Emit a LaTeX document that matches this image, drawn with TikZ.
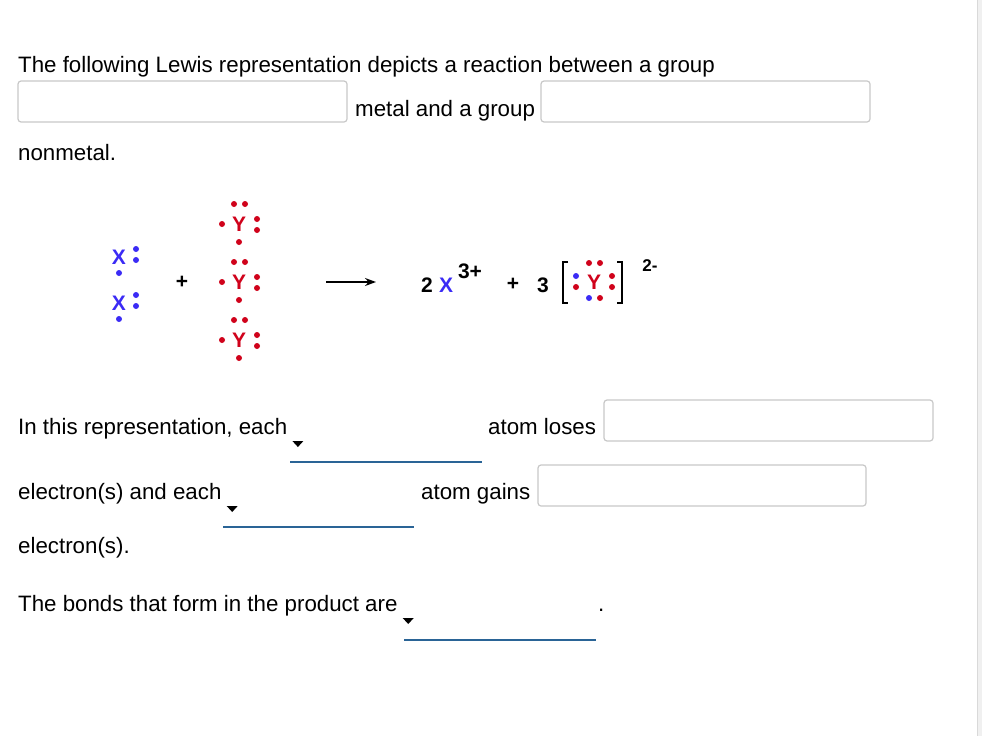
\documentclass[tikz,border=0pt]{standalone}
\usepackage{fontspec}
\setmainfont{Liberation Sans}
\usetikzlibrary{arrows.meta}
\definecolor{xblue}{HTML}{3B2BF5}
\definecolor{yred}{HTML}{D0021B}
\definecolor{boxgray}{HTML}{C8C8C8}
\definecolor{lineblue}{HTML}{2A6496}
\begin{document}
\begin{tikzpicture}[x=1pt,y=-1pt,
  txt/.style={anchor=base west,inner sep=0pt,font=\fontsize{22.3}{26}\selectfont},
  inbox/.style={draw=boxgray,line width=1.2pt,rounded corners=3pt},
  uline/.style={draw=lineblue,line width=1.6pt},
  lw/.style={font=\bfseries\fontsize{21}{24}\selectfont,inner sep=0pt},
  bd/.style={circle,fill=xblue,inner sep=0pt,minimum size=6pt},
  rd/.style={circle,fill=yred,inner sep=0pt,minimum size=6pt},
  tri/.style={fill=black}]
\useasboundingbox (0,0) rectangle (982,736);
\fill[gray!12] (977,0) rectangle (982,736);
\draw[gray!30] (977,0) -- (977,736);
% first sentence
\node[txt] (t1) at (18,72) {The following Lewis representation depicts a reaction between a group};
\draw[inbox] (18,81) rectangle (347,122);
\node[txt] (t2) at (355,116) {metal and a group};
\draw[inbox] (541,81) rectangle (870,122);
\node[txt] (t3) at (18,160) {nonmetal.};
% reactants X
\foreach \yy in {257,303}{
  \node[lw,text=xblue] at (119,\yy) {X};
  \node[bd] at (136,\yy-8) {}; \node[bd] at (136,\yy+3) {};
  \node[bd] at (119,\yy+16) {};
}
\node[lw] (plus1) at (182,282) {+};
% reactants Y
\foreach \yy in {224,282,340}{
  \node[lw,text=yred] at (239,\yy) {Y};
  \node[rd] at (234,\yy-20) {}; \node[rd] at (245,\yy-20) {};
  \node[rd] at (222,\yy) {};
  \node[rd] at (257,\yy-5) {}; \node[rd] at (257,\yy+6) {};
  \node[rd] at (239,\yy+18) {};
}
% arrow
\coordinate (a1) at (326,282); \coordinate (a2) at (376,282);
\draw[line width=1.5pt,-{Stealth[length=11pt,width=8pt]}] (a1) -- (a2);
% products
\node[lw] (two) at (427,285) {2};
\node[lw,text=xblue] (xion) at (446,285) {X};
\node[lw] (chg1) at (470,271) {3+};
\node[lw] (plus2) at (513,284) {+};
\node[lw] (three) at (543,285) {3};
\draw[line width=1.3pt] (568,262) -- (563,262) -- (563,303) -- (568,303);
\draw[line width=1.3pt] (617,262) -- (622,262) -- (622,303) -- (617,303);
\node[lw,text=yred] (yion) at (594,282) {Y};
\node[rd] at (589,263) {}; \node[rd] at (600,263) {};
\node[bd] at (576,276) {}; \node[rd] at (576,287) {};
\node[rd] at (612,276) {}; \node[rd] at (612,287) {};
\node[bd] at (589,298) {}; \node[rd] at (600,298) {};
\node[font=\bfseries\fontsize{17}{20}\selectfont,inner sep=0pt] (chg2) at (650,266) {2-};
% questions
\node[txt] (q1) at (18,434) {In this representation, each};
\fill[tri] ([xshift=5pt,yshift=-7pt]q1.base east) -- ++(11,0) -- ++(-5.5,6) -- cycle;
\draw[uline] (290,462) -- (482,462);
\node[txt] (q2) at (488,434) {atom loses};
\draw[inbox] (604,400) rectangle (933,441);
\node[txt] (q3) at (18,499) {electron(s) and each};
\fill[tri] ([xshift=5pt,yshift=-7pt]q3.base east) -- ++(11,0) -- ++(-5.5,6) -- cycle;
\draw[uline] (223,527) -- (414,527);
\node[txt] (q4) at (421,499) {atom gains};
\draw[inbox] (538,465) rectangle (866,506);
\node[txt] (q5) at (18,553) {electron(s).};
\node[txt] (q6) at (18,611) {The bonds that form in the product are};
\fill[tri] ([xshift=5pt,yshift=-7pt]q6.base east) -- ++(11,0) -- ++(-5.5,6) -- cycle;
\draw[uline] (404,640) -- (596,640);
\node[txt] (q7) at (598,611) {.};
\end{tikzpicture}
\end{document}
